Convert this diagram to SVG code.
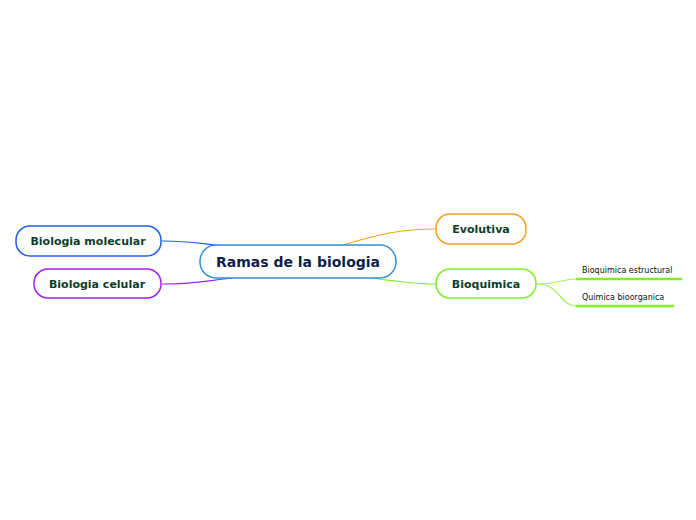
<svg xmlns="http://www.w3.org/2000/svg" width="696" height="520" viewBox="0 0 696 520">
<style>
text{font-family:"DejaVu Sans",Verdana,sans-serif;text-anchor:middle}
.n{fill:#fff;stroke-width:1.5}
.t{font-size:11px;font-weight:bold;fill:#0b3d2a}
.s{font-size:8px;fill:#111;text-anchor:start}
.c{fill:none;stroke-width:1.2}
</style>
<rect width="696" height="520" fill="#fff"/>
<g id="connectors">
<path class="c" d="M162,241 C190,241 195,243 225,246" stroke="#2060f0"/>
<path class="c" d="M162,284 C200,284 210,280 232,278" stroke="#a020f0"/>
<path class="c" d="M340,246 C380,234 400,229 436,229" stroke="#f5a020"/>
<path class="c" d="M372,278 C400,282 420,284 436,284" stroke="#80ee20"/>
<path class="c" d="M537,284 C555,284 560,280 576,279" stroke="#a8f060"/>
<path class="c" d="M537,284 C560,284 560,306 576,306" stroke="#a8f060"/>
<line x1="576" y1="279" x2="682" y2="279" stroke="#80ee20" stroke-width="2.5"/>
<line x1="576" y1="306" x2="674" y2="306" stroke="#80ee20" stroke-width="2.5"/>
</g>
<g id="root"><rect class="n" x="200" y="245" width="196" height="33" rx="16" stroke="#3090d0"/><text x="298" y="267" font-size="14" font-weight="bold" fill="#0b1f4a">Ramas de la biologia</text></g>
<g id="bmol"><rect class="n" x="16" y="226" width="145" height="30" rx="14" stroke="#2060f0"/><text class="t" x="88" y="245">Biologia molecular</text></g>
<g id="bcel"><rect class="n" x="34" y="269" width="127" height="29" rx="14" stroke="#a020f0"/><text class="t" x="97" y="288">Biologia celular</text></g>
<g id="evo"><rect class="n" x="436" y="214" width="90" height="30" rx="14" stroke="#f5a020"/><text class="t" x="481" y="233">Evolutiva</text></g>
<g id="bioq"><rect class="n" x="436" y="269" width="100" height="29" rx="14" stroke="#80ee20"/><text class="t" x="486" y="288">Bioquimica</text></g>
<g id="be"><text class="s" x="582" y="273">Bioquimica estructural</text></g>
<g id="qb"><text class="s" x="582" y="300">Quimica bioorganica</text></g>
</svg>
